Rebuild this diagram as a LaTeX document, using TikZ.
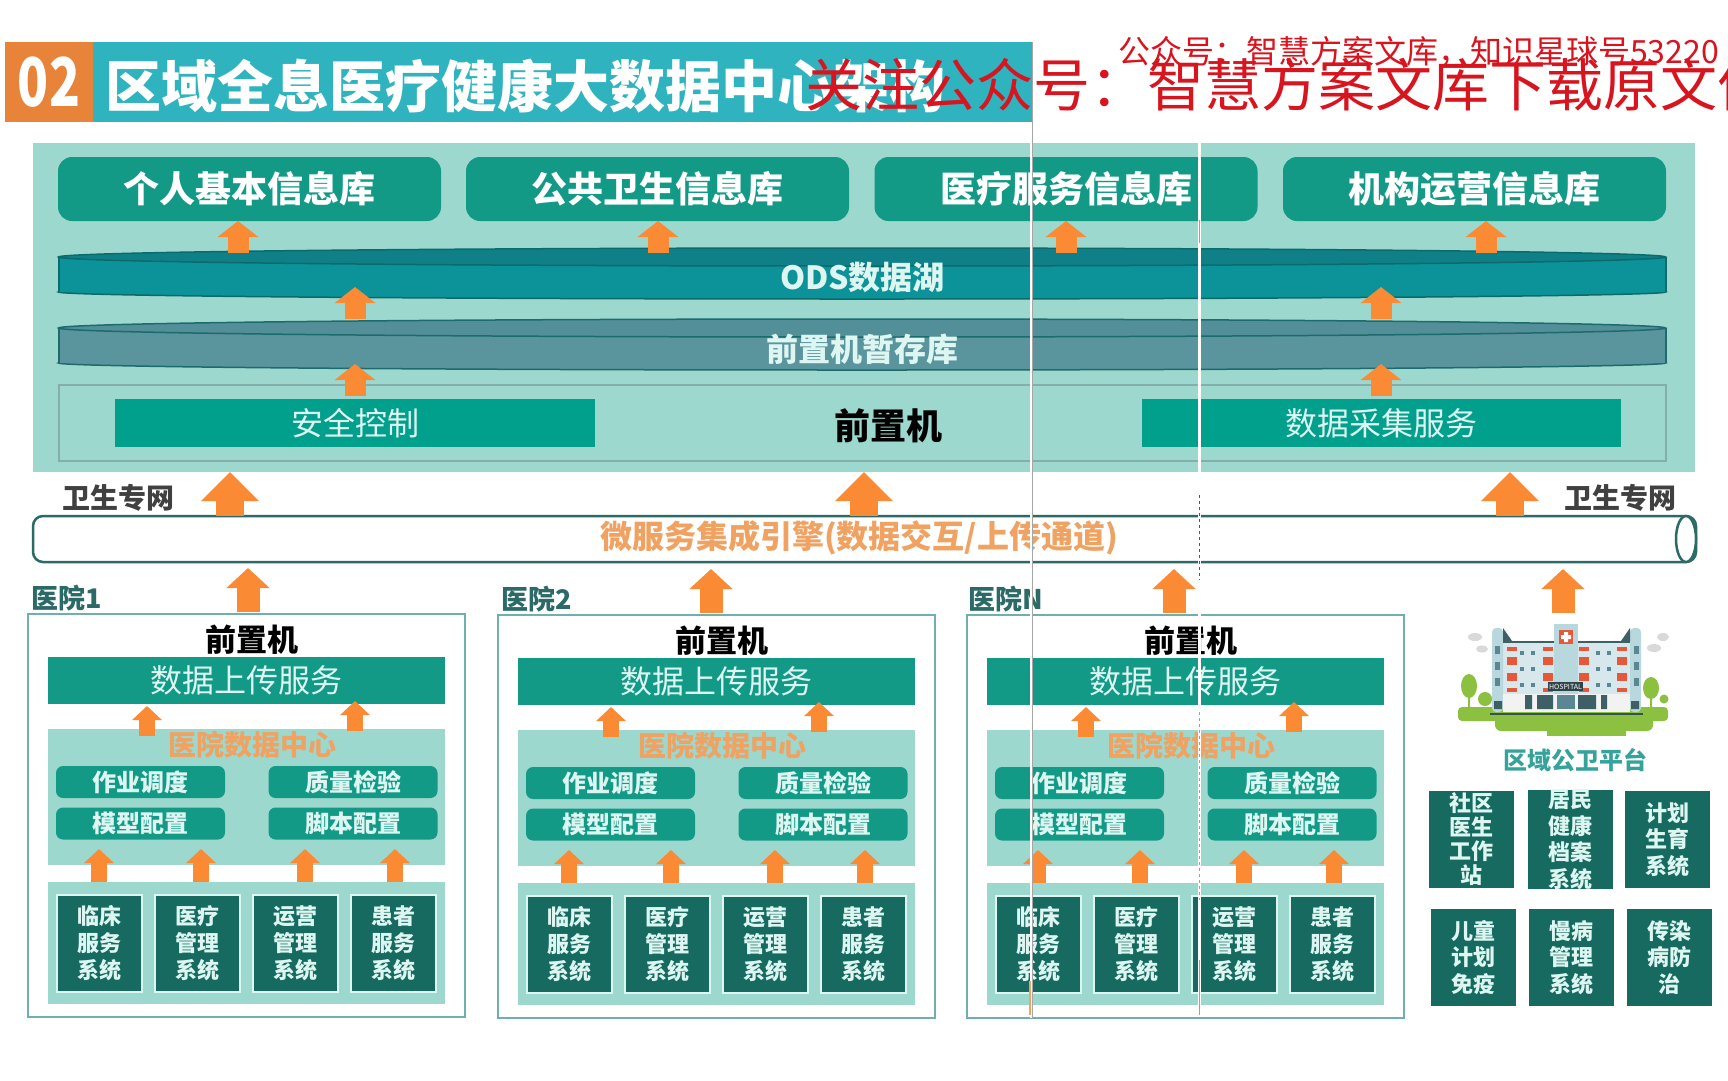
\documentclass[tikz,border=0pt]{standalone}
\usepackage{fontspec}
\setmainfont{Noto Sans CJK SC}
\usetikzlibrary{arrows.meta}

\definecolor{paneltint}{HTML}{9DD8CF}
\definecolor{tealbox}{HTML}{129A87}
\definecolor{tealbar}{HTML}{00A08C}
\definecolor{darkbox}{HTML}{166A60}
\definecolor{paletext}{HTML}{DDF6F1}
\definecolor{arroworange}{HTML}{FB8A35}
\definecolor{softorange}{HTML}{EFA262}
\definecolor{pipeline}{HTML}{2B6A66}
\definecolor{hospline}{HTML}{6FB0AE}
\definecolor{titleteal}{HTML}{2FB3BF}
\definecolor{titleorange}{HTML}{E8833A}
\definecolor{markred}{HTML}{D8141E}
\definecolor{grass}{HTML}{8CC040}
\definecolor{wallblue}{HTML}{D6E8EC}
\definecolor{towerblue}{HTML}{B9D8DD}
\definecolor{windowgray}{HTML}{5A8792}
\definecolor{brick}{HTML}{E5583A}
\definecolor{odsbody}{HTML}{0B9399}
\definecolor{odstop}{HTML}{0F8088}
\definecolor{odsedge}{HTML}{0B6B6B}
\definecolor{storebody}{HTML}{5A949C}
\definecolor{storetop}{HTML}{528F98}
\definecolor{storeedge}{HTML}{1E6B6E}
\definecolor{platformteal}{HTML}{35A39B}

\tikzset{
    plain box/.style={inner sep=0pt, outer sep=0pt, align=center},
    libbox/.style={plain box, fill=tealbox, rounded corners=14pt, text=white,
        minimum width=383, minimum height=64, font=\fontsize{36}{40}\selectfont\bfseries},
    barbox/.style={plain box, fill=tealbar, text=paletext, font=\fontsize{32}{36}\selectfont},
    panelbox/.style={plain box, fill=paneltint},
    jobbox/.style={plain box, fill=tealbox, rounded corners=7pt, text=paletext,
        minimum width=169, minimum height=32, font=\fontsize{24}{28}\selectfont\bfseries},
    sysbox/.style={plain box, fill=darkbox, draw=paletext, line width=2.5pt, text=paletext,
        minimum width=85, minimum height=97, font=\fontsize{22}{27}\selectfont\bfseries},
    pubbox/.style={plain box, fill=darkbox, text=paletext,
        minimum width=85, minimum height=97, font=\fontsize{22}{26.5}\selectfont\bfseries},
    disctext/.style={plain box, minimum width=1607, minimum height=51, text=paletext,
        font=\fontsize{32}{36}\selectfont\bfseries},
    blacktitle/.style={plain box, text=black, font=\fontsize{#1}{#1}\selectfont\bfseries},
    upsmall/.style={-{Triangle[length=14pt,width=29pt]}, line width=16pt, arroworange},
    upmid/.style={-{Triangle[length=16pt,width=40pt]}, line width=21pt, arroworange},
    uplarge/.style={-{Triangle[length=20pt,width=42pt]}, line width=23pt, arroworange},
    upbig/.style={-{Triangle[length=29pt,width=56pt]}, line width=28pt, arroworange},
    discedge/.style={draw=#1, line width=1.5pt},
    scanline/.style={line width=2.5pt, white}
}

\newcommand{\discshape}[4]{%
    \draw[discedge=#3, fill=#1] (862,#4+44) ellipse[x radius=803.5, y radius=7];
    \fill[#1] (59,#4+9) rectangle (1666,#4+44);
    \draw[discedge=#3] (59,#4+9) -- (59,#4+44) (1666,#4+9) -- (1666,#4+44);
    \draw[discedge=#3, fill=#2] (862,#4+9) ellipse[x radius=803.5, y radius=9];
}

\begin{document}
\begin{tikzpicture}[x=1pt, y=-1pt]
    \path[use as bounding box, fill=white] (0,0) rectangle (1728,1080);
    \clip (0,0) rectangle (1728,1080);

    % Titolo
    \node[plain box, fill=titleteal, minimum width=940, minimum height=80] (titlebar) at (563,82) {};
    \node[plain box, fill=titleorange, minimum width=88, minimum height=80, text=white,
        font=\fontsize{60}{60}\selectfont\bfseries] (titlenum) at (49,82) {\scalebox{.85}[1.12]{02}};
    \node[plain box, anchor=west, text=white, font=\fontsize{56}{60}\selectfont\bfseries]
        (titletext) at (105,86) {区域全息医疗健康大数据中心架构};

    % Pannello superiore
    \node[panelbox, minimum width=1662, minimum height=329] (toppanel) at (864,307.5) {};
    \node[libbox] (libone) at (249.5,189) {个人基本信息库};
    \node[libbox] (libtwo) at (657.5,189) {公共卫生信息库};
    \node[libbox] (libthree) at (1066,189) {医疗服务信息库};
    \node[libbox] (libfour) at (1474.5,189) {机构运营信息库};

    \discshape{odsbody}{odstop}{odsedge}{248}
    \node[disctext] (odslake) at (862.5,277) {ODS数据湖};
    \discshape{storebody}{storetop}{storeedge}{319}
    \node[disctext] (storedb) at (862.5,349) {前置机暂存库};

    \node[plain box, draw=gray!55!teal!65, line width=1.5pt, minimum width=1607, minimum height=76]
        (frontbox) at (862.5,423) {};
    \node[barbox, minimum width=480, minimum height=48] (safebar) at (355,423) {安全控制};
    \node[barbox, minimum width=479, minimum height=48] (collectbar) at (1381.5,423) {数据采集服务};
    \node[blacktitle=36] (fronttitle) at (888,426) {前置机};

    % Frecce pannello superiore
    \draw[upmid] (238,0 |- libone.south) ++(0,32) -- (238,0 |- libone.south);
    \draw[upmid] (658,0 |- libtwo.south) ++(0,32) -- (658,0 |- libtwo.south);
    \draw[upmid] (1066,0 |- libthree.south) ++(0,32) -- (1066,0 |- libthree.south);
    \draw[upmid] (1486,0 |- libfour.south) ++(0,32) -- (1486,0 |- libfour.south);
    \draw[upmid] (355,0 |- safebar.north) ++(0,-80) -- ++(0,-32);
    \draw[upmid] (1381,0 |- collectbar.north) ++(0,-80) -- ++(0,-32);
    \draw[upmid] (355,0 |- safebar.north) ++(0,-3) -- ++(0,-32);
    \draw[upmid] (1381,0 |- collectbar.north) ++(0,-3) -- ++(0,-32);

    % Tubo centrale
    \node[plain box, draw=pipeline, fill=white, line width=2.5pt, rounded corners=10pt,
        minimum width=1663, minimum height=46] (pipe) at (864.5,539) {};
    \draw[draw=pipeline, fill=white, line width=2.5pt] (1686,539) ellipse[x radius=10, y radius=23];
    \node[plain box, text=softorange, font=\fontsize{32}{34}\selectfont\bfseries] (pipetext) at (859,538)
        {微服务集成引擎(数据交互/上传通道)};
    \node[plain box, text=black!75, font=\fontsize{28}{30}\selectfont\bfseries] (netleft) at (118,498) {卫生专网};
    \node[plain box, text=black!75, font=\fontsize{28}{30}\selectfont\bfseries] (netright) at (1620,498) {卫生专网};
    \draw[upbig] (230,0 |- pipe.north) -- (230,0 |- toppanel.south);
    \draw[upbig] (864,0 |- pipe.north) -- (864,0 |- toppanel.south);
    \draw[upbig] (1510,0 |- pipe.north) -- (1510,0 |- toppanel.south);

    % Ospedali
    \foreach \h/\dx/\dy/\hname/\upx/\arx in {one/0/0/医院1/248/0, two/470/1/医院2/241/-6, many/939/1/医院N/235/0} {
        \begin{scope}[shift={(\dx,\dy)}]
            \node[plain box, draw=hospline, line width=1.5pt, minimum width=437, minimum height=403]
                (outer\h) at (246.5,815.5) {};
            \node[plain box, text=pipeline, font=\fontsize{27}{29}\selectfont\bfseries] (tag\h) at (67,598) {\hname};
            \node[blacktitle=31] (title\h) at (252,640) {前置机};
            \node[barbox, fill=tealbox, minimum width=397, minimum height=47] (bar\h) at (246.5,680.5) {数据上传服务};
            \node[panelbox, minimum width=397, minimum height=136] (dc\h) at (246.5,797) {};
            \node[plain box, text=softorange, font=\fontsize{28}{30}\selectfont\bfseries] (dctext\h) at (252,745) {医院数据中心};
            \node[jobbox] (joba\h) at (140.5,782) {作业调度};
            \node[jobbox] (jobb\h) at (353,782) {质量检验};
            \node[jobbox] (jobc\h) at (140.5,823.5) {模型配置};
            \node[jobbox] (jobd\h) at (353,823.5) {脚本配置};
            \node[panelbox, minimum width=397, minimum height=122] (sys\h) at (246.5,943) {};
            \foreach \k/\x/\sysname in {a/99.5/临床\\服务\\系统, b/197.5/医疗\\管理\\系统, c/295.5/运营\\管理\\系统, d/393.5/患者\\服务\\系统}
                \node[sysbox] (sys\k\h) at (\x,943.5) {\sysname};
            \foreach \x in {99,201,305,395}
                \draw[upsmall] (\x,0 |- sys\h.north) -- ++(0,-33);
            \draw[upsmall] (147+\arx,0 |- dc\h.north) ++(0,7) -- ++(0,-30);
            \draw[upsmall] (355+\arx,0 |- dc\h.north) ++(0,2) -- ++(0,-30);
            \draw[uplarge] (\upx,0 |- outer\h.north) ++(0,-2) -- ++(0,-44);
        \end{scope}
    }

    % Piattaforma regionale
    \fill[gray!30] (1475,637) ellipse[x radius=7, y radius=4] (1482,649) ellipse[x radius=6, y radius=3.5]
        (1663,637) ellipse[x radius=6, y radius=4] (1654,648) ellipse[x radius=7, y radius=4];
    \fill[grass] (1469,686) ellipse[x radius=8, y radius=12] (1651,688) ellipse[x radius=8, y radius=11]
        (1664,699) circle[radius=4.5] (1485,699) circle[radius=7];
    \fill[grass] (1468,685) rectangle (1470,708) (1650,690) rectangle (1652,708);
    \fill[grass, rounded corners=4pt] (1458,707) rectangle (1668,721);
    \fill[grass, rounded corners=6pt] (1495,712) rectangle (1653,731);
    \fill[grass] (1547,728) rectangle (1626,736);
    \fill[wallblue] (1503,642) rectangle (1630,712);
    \fill[towerblue, rounded corners=4pt] (1492,628) rectangle (1503,712);
    \fill[towerblue, rounded corners=4pt] (1630,628) rectangle (1641,712);
    \fill[windowgray!70!black] (1503,628) -- (1512,641) -- (1503,641) -- cycle;
    \fill[windowgray!70!black] (1630,628) -- (1621,641) -- (1630,641) -- cycle;
    \fill[windowgray!70!black] (1503,640.5) rectangle (1630,642.5);
    \fill[towerblue] (1554,624) rectangle (1578,696);
    \fill[brick] (1559,630) rectangle (1573,644);
    \fill[white] (1564,632) rectangle (1568,642) (1561,635) rectangle (1571,639);
    \foreach \wx in {1520,1531,1596,1607}
        \foreach \wy in {651,667,683}
            \fill[windowgray] (\wx,\wy) rectangle ++(4,4);
    \foreach \wx in {1495,1634}
        \foreach \wy in {646,662,678}
            \fill[windowgray] (\wx,\wy) rectangle ++(5,8);
    \foreach \rx in {1507,1543,1579,1617} {
        \fill[brick] (\rx,647) rectangle ++(10,4);
        \fill[brick] (\rx,657) rectangle ++(10,8);
        \fill[brick] (\rx,673) rectangle ++(10,8);
        \fill[brick] (\rx,688) rectangle ++(10,4);
    }
    \fill[white!90!gray] (1503,694) rectangle (1630,712);
    \fill[windowgray!70!black] (1525,695) rectangle (1532,709) (1537,695) rectangle (1553,709)
        (1578,695) rectangle (1596,709) (1601,695) rectangle (1607,709)
        (1494,701) rectangle (1502,709) (1631,701) rectangle (1639,709);
    \fill[windowgray] (1557,695) rectangle (1575,709);
    \draw[windowgray!60!black, line width=1.5pt] (1490,714) -- (1643,714);
    \node[plain box, fill=windowgray!50!black, text=white, minimum width=35, minimum height=9,
        font=\fontsize{7}{8}\selectfont] (hospsign) at (1565.5,686.5) {HOSPITAL};
    \coordinate (platformtop) at (1563,613);
    \draw[uplarge] (platformtop) -- ++(0,-44);
    \node[plain box, text=platformteal, font=\fontsize{24}{26}\selectfont\bfseries] (platformtext) at (1575,760) {区域公卫平台};

    \node[pubbox, font=\fontsize{22}{24}\selectfont\bfseries] (puba) at (1471.5,839.5) {社区\\医生\\工作\\站};
    \node[pubbox] (pubb) at (1570,839.5) {居民\\健康\\档案\\系统};
    \node[pubbox] (pubc) at (1667.5,839.5) {计划\\生育\\系统};
    \node[pubbox] (pubd) at (1473.5,957.5) {儿童\\计划\\免疫};
    \node[pubbox] (pube) at (1571.5,957.5) {慢病\\管理\\系统};
    \node[pubbox] (pubf) at (1669.5,957.5) {传染\\病防\\治};

    % Linee di scansione
    \draw[scanline] (1031,143) -- (1031,1018);
    \draw[gray!70, line width=0.8pt] (1032,42) -- (1032,1018);
    \draw[softorange, line width=2.5pt] (1030,981) -- (1030,1015);
    \draw[scanline] (1199.5,143) -- (1199.5,1015);
    \draw[softorange!90!black, line width=1.5pt] (1199.5,220) -- (1199.5,243);
    \draw[softorange!90!black, line width=1.5pt, dashed] (1199.5,712) -- (1199.5,900);
    \draw[softorange!90!black, line width=1.5pt] (1199.5,960) -- (1199.5,1015);
    \draw[pipeline, line width=1.5pt, dashed] (1199.5,495) -- (1199.5,580);

    % Testo rosso
    \node[plain box, anchor=west, text=markred, font=\fontsize{32}{34}\selectfont] (marksmall) at (1118,52)
        {公众号：智慧方案文库，知识星球号53220};
    \node[plain box, anchor=west, text=markred, font=\fontsize{57}{60}\selectfont] (markbig) at (805,85)
        {关注公众号：智慧方案文库下载原文件};
\end{tikzpicture}
\end{document}
